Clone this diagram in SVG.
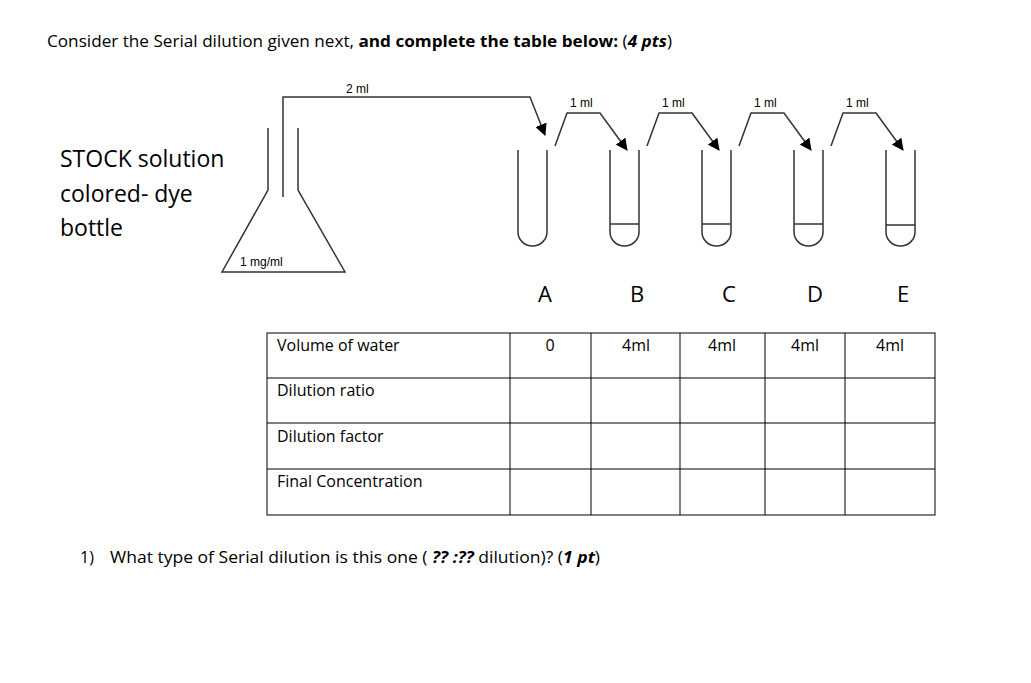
<svg xmlns="http://www.w3.org/2000/svg" width="1031" height="683" viewBox="0 0 1031 683">
<style>
.t{font-family:"Open Sans","Liberation Sans",sans-serif;fill:#000}
.h{font-family:"Liberation Sans",Arial,sans-serif;font-size:12px}
.ln{fill:none;stroke:#333;stroke-width:1.5}
.g{fill:none;stroke:#000;stroke-width:1}
</style>
<defs><marker id="a" markerWidth="12" markerHeight="12" refX="11" refY="6" orient="auto" markerUnits="userSpaceOnUse" viewBox="0 0 12 12"><path d="M0,0 L12,6 L0,12z" fill="#000"/></marker>
<path id="tube" d="M0,0 V82 a14.5,14 0 0 0 29,0 V0" class="ln"/></defs>
<rect width="1031" height="683" fill="#fff"/>
<text class="t" x="47" y="47" font-size="15.5" textLength="625" lengthAdjust="spacingAndGlyphs">Consider the Serial dilution given next, <tspan font-weight="bold">and complete the table below:</tspan> (<tspan font-weight="bold" font-style="italic">4 pts</tspan>)</text>
<g id="stock-label" class="t" font-size="23"><text x="60" y="167">STOCK solution</text><text x="60" y="202">colored- dye</text><text x="60" y="236">bottle</text></g>
<g id="flask"><path class="ln" d="M268,128 V190 L222,272 H345 L298,190 V128"/><text class="h" x="240" y="266">1 mg/ml</text></g>
<g id="tubes"><use href="#tube" x="518" y="150"/><use href="#tube" x="610" y="150"/><use href="#tube" x="702" y="150"/><use href="#tube" x="794" y="150"/><use href="#tube" x="886" y="150"/>
<path class="ln" d="M610,224H639M702,224H731M794,224H823M886,225H915"/></g>
<g id="connectors" class="ln" stroke="#000">
<path d="M283,197 V97 H530 L545,135" marker-end="url(#a)"/>
<path d="M555,146 L567,113 H600 L627,150" marker-end="url(#a)"/>
<path d="M647,146 L659,113 H692 L719,150" marker-end="url(#a)"/>
<path d="M739,146 L751,113 H784 L811,150" marker-end="url(#a)"/>
<path d="M831,146 L843,113 H876 L903,150" marker-end="url(#a)"/>
</g>
<g class="h"><text x="346" y="93">2 ml</text><text x="570" y="107">1 ml</text><text x="662" y="107">1 ml</text><text x="754" y="107">1 ml</text><text x="846" y="107">1 ml</text></g>
<g class="t" font-size="22" text-anchor="middle"><text x="545" y="302">A</text><text x="637" y="302">B</text><text x="729" y="302">C</text><text x="815" y="302">D</text><text x="903" y="302">E</text></g>
<g id="table"><rect class="g" x="267" y="333" width="668" height="182"/>
<path class="g" d="M510,333V515M591,333V515M680,333V515M765,333V515M845,333V515M267,378H935M267,423H935M267,469H935"/>
<g class="t" font-size="16"><text x="277" y="351">Volume of water</text><text x="277" y="396">Dilution ratio</text><text x="277" y="442">Dilution factor</text><text x="277" y="487">Final Concentration</text>
<g text-anchor="middle"><text x="550" y="351">0</text><text x="636" y="351">4ml</text><text x="722" y="351">4ml</text><text x="805" y="351">4ml</text><text x="890" y="351">4ml</text></g></g></g>
<text class="t" x="80" y="563" font-size="16">1)</text>
<text class="t" x="110" y="563" font-size="16" textLength="490" lengthAdjust="spacingAndGlyphs">What type of Serial dilution is this one ( <tspan font-weight="bold" font-style="italic">?? :??</tspan> dilution)? (<tspan font-weight="bold" font-style="italic">1 pt</tspan>)</text>
</svg>
